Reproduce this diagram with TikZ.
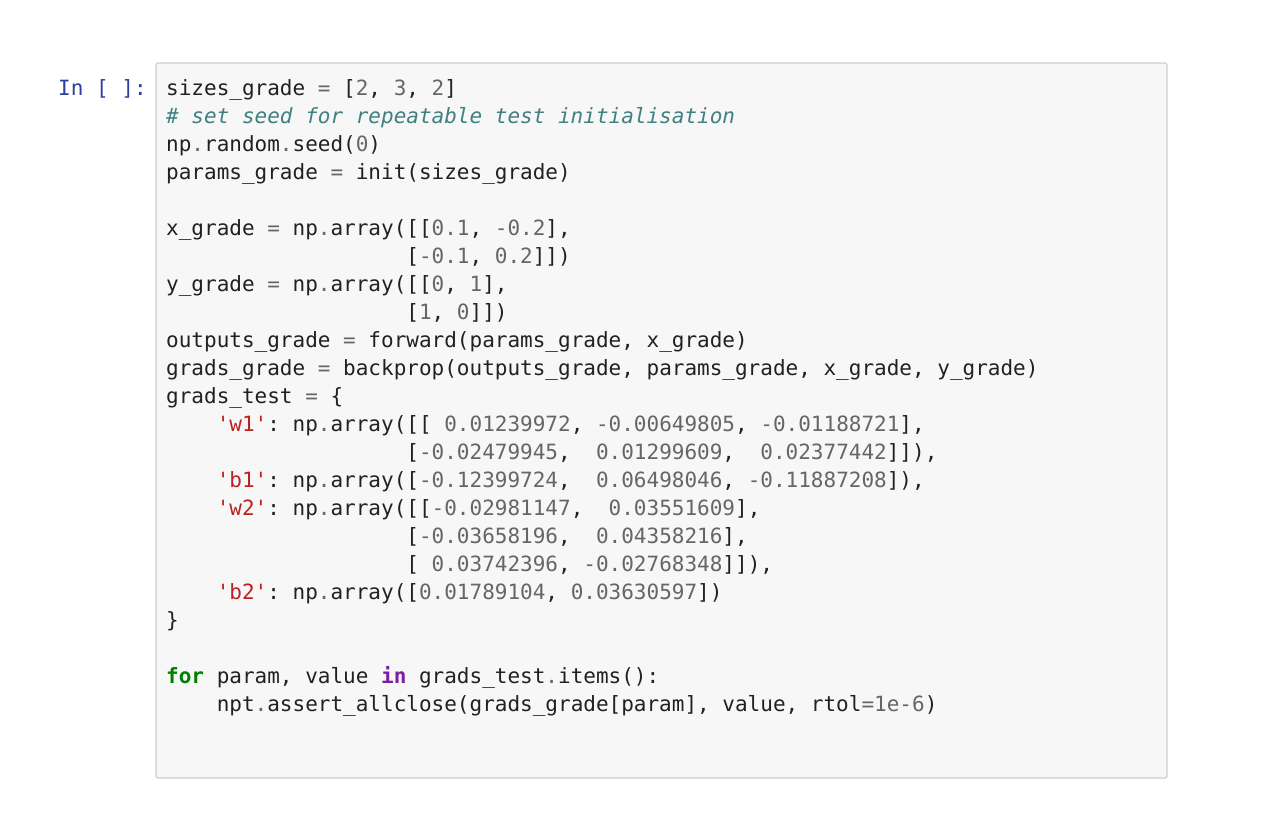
\documentclass[tikz,border=0pt]{standalone}
\usepackage{fontspec}
\setmonofont{DejaVu Sans Mono}
\definecolor{ink}{HTML}{212121}
\definecolor{numc}{HTML}{666666}
\definecolor{strc}{HTML}{BA2121}
\definecolor{comc}{HTML}{408080}
\definecolor{kwc}{HTML}{008000}
\definecolor{inc}{HTML}{7B1FA2}
\definecolor{promptc}{HTML}{303F9F}
\definecolor{cellbg}{HTML}{F7F7F7}
\definecolor{cellbd}{HTML}{CFCFCF}
\newcommand\s{\phantom{0}}
\newcommand\n[1]{\textcolor{numc}{#1}}
\newcommand\str[1]{\textcolor{strc}{#1}}
\newcommand\kw[1]{\textcolor{kwc}{\bfseries #1}}
\begin{document}
\begin{tikzpicture}[x=1pt,y=1pt,
  code/.style={anchor=base west,inner sep=0pt,text=ink,font=\ttfamily\fontsize{21}{28}\selectfont}]
\useasboundingbox (0,0) rectangle (1282,816);
\fill[white] (0,0) rectangle (1282,816);
\draw[cellbd,fill=cellbg,line width=1.2pt,rounded corners=1.5pt] (156,816-63) rectangle (1167,816-778);
\node[code,text=promptc] (prompt) at (58,816-96) {In [ ]:};
\node[code] (l1) at (166,816-96) {sizes\_grade \n{=} [\n{2}, \n{3}, \n{2}]};
\node[code] (l2) at (166,816-124) {\textcolor{comc}{\itshape \# set seed for repeatable test initialisation}};
\node[code] (l3) at (166,816-152) {np\n{.}random\n{.}seed(\n{0})};
\node[code] (l4) at (166,816-180) {params\_grade \n{=} init(sizes\_grade)};
\node[code] (l6) at (166,816-236) {x\_grade \n{=} np\n{.}array([[\n{0.1}, \n{-0.2}],};
\node[code] (l7) at (166,816-264) {\s\s\s\s\s\s\s\s\s\s\s\s\s\s\s\s\s\s\s[\n{-0.1}, \n{0.2}]])};
\node[code] (l8) at (166,816-292) {y\_grade \n{=} np\n{.}array([[\n{0}, \n{1}],};
\node[code] (l9) at (166,816-320) {\s\s\s\s\s\s\s\s\s\s\s\s\s\s\s\s\s\s\s[\n{1}, \n{0}]])};
\node[code] (l10) at (166,816-348) {outputs\_grade \n{=} forward(params\_grade, x\_grade)};
\node[code] (l11) at (166,816-376) {grads\_grade \n{=} backprop(outputs\_grade, params\_grade, x\_grade, y\_grade)};
\node[code] (l12) at (166,816-404) {grads\_test \n{=} \{};
\node[code] (l13) at (166,816-432) {\s\s\s\s\str{'w1'}: np\n{.}array([[\s\n{0.01239972}, \n{-0.00649805}, \n{-0.01188721}],};
\node[code] (l14) at (166,816-460) {\s\s\s\s\s\s\s\s\s\s\s\s\s\s\s\s\s\s\s[\n{-0.02479945},\s\s\n{0.01299609},\s\s\n{0.02377442}]]),};
\node[code] (l15) at (166,816-488) {\s\s\s\s\str{'b1'}: np\n{.}array([\n{-0.12399724},\s\s\n{0.06498046}, \n{-0.11887208}]),};
\node[code] (l16) at (166,816-516) {\s\s\s\s\str{'w2'}: np\n{.}array([[\n{-0.02981147},\s\s\n{0.03551609}],};
\node[code] (l17) at (166,816-544) {\s\s\s\s\s\s\s\s\s\s\s\s\s\s\s\s\s\s\s[\n{-0.03658196},\s\s\n{0.04358216}],};
\node[code] (l18) at (166,816-572) {\s\s\s\s\s\s\s\s\s\s\s\s\s\s\s\s\s\s\s[\s\n{0.03742396}, \n{-0.02768348}]]),};
\node[code] (l19) at (166,816-600) {\s\s\s\s\str{'b2'}: np\n{.}array([\n{0.01789104}, \n{0.03630597}])};
\node[code] (l20) at (166,816-628) {\}};
\node[code] (l22) at (166,816-684) {\kw{for} param, value \textcolor{inc}{\bfseries in} grads\_test\n{.}items():};
\node[code] (l23) at (166,816-712) {\s\s\s\s{}npt\n{.}assert\_allclose(grads\_grade[param], value, rtol\n{=}\n{1e-6})};
\end{tikzpicture}
\end{document}
